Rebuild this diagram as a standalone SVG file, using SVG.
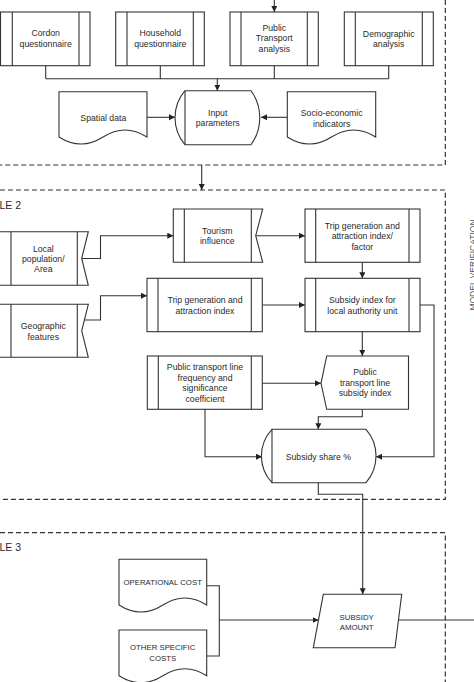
<svg xmlns="http://www.w3.org/2000/svg" width="474" height="682" viewBox="0 0 474 682">
<defs>
<marker id="arr" markerUnits="userSpaceOnUse" markerWidth="7" markerHeight="7" refX="6" refY="3" orient="auto">
<path d="M0,0 L6,3 L0,6 Z" fill="#222"/>
</marker>
<style>
.s{fill:#fff;stroke:#333;stroke-width:1.1}
.l{fill:none;stroke:#333;stroke-width:1.1}
.c{fill:none;stroke:#333;stroke-width:1.1}
.a{marker-end:url(#arr)}
.d{fill:none;stroke:#333;stroke-width:1.2;stroke-dasharray:5 3}
text{font-family:"Liberation Sans",Arial,sans-serif;font-size:8.7px;fill:#2a2a2a;text-anchor:middle}
.u{font-size:7.8px}
.m{font-size:10.5px;text-anchor:start}
.v{font-size:8.5px;fill:#555}
</style>
</defs>
<rect width="474" height="682" fill="#fff"/>

<g id="modules">
<path class="d" d="M445.3,0 V165 H0"/>
<path class="d" d="M0,190 H445.3 V499.3 H0"/>
<path class="d" d="M0,532.7 H445.3 V682"/>
<text class="m" x="-0.5" y="209">LE 2</text>
<text class="m" x="-0.5" y="551">LE 3</text>
<text class="v" transform="translate(476,265) rotate(-90)">MODEL VERIFICATION</text>
</g>

<g id="connectors">
<path class="c a" d="M274.3,0 V12"/>
<path class="c" d="M45.7,65.7 V78.7 M160.3,65.7 V78.7 M274.3,65.7 V78.7 M388.7,65.7 V78.7 M45.7,78.7 H388.7"/>
<path class="c a" d="M217.3,78.7 V90.7"/>
<path class="c a" d="M147,117.3 H175"/>
<path class="c a" d="M287.3,117.3 H261"/>
<path class="c a" d="M201.7,165 V190"/>
<path class="c a" d="M81.7,258.5 H100.5 V235.7 H173.3"/>
<path class="c a" d="M255.7,235.7 H305"/>
<path class="c a" d="M362.3,262.3 V278.3"/>
<path class="c a" d="M84.3,320 H100.5 V295.7 H147"/>
<path class="c a" d="M262.3,305 H305"/>
<path class="c a" d="M420,305 H434 V456.7 H376"/>
<path class="c a" d="M362.3,331.7 V356"/>
<path class="c a" d="M262.3,383.3 H321"/>
<path class="c a" d="M362.3,409.3 V416.7 H318.3 V429.3"/>
<path class="c a" d="M205,409.3 V456.7 H262"/>
<path class="c a" d="M318.3,482.7 V494.3 H362.7 V594.3"/>
<path class="c" d="M206.7,585.7 H219.3 V656 H206.7"/>
<path class="c a" d="M219.3,620 H318.5"/>
<path class="c" d="M398.5,620 H474"/>
</g>

<g id="cordon">
<rect class="s" x="0.5" y="12" width="89.5" height="53.7"/>
<path class="l" d="M12.3,12 V65.7 M79,12 V65.7"/>
<text x="45.7" y="36.3">Cordon</text>
<text x="45.7" y="47">questionnaire</text>
</g>
<g id="household">
<rect class="s" x="115.7" y="12" width="88.6" height="53.7"/>
<path class="l" d="M127,12 V65.7 M193.3,12 V65.7"/>
<text x="160.3" y="36.3">Household</text>
<text x="160.3" y="47">questionnaire</text>
</g>
<g id="public-transport">
<rect class="s" x="230" y="12" width="88.3" height="53.7"/>
<path class="l" d="M241,12 V65.7 M307.3,12 V65.7"/>
<text x="274.3" y="31">Public</text>
<text x="274.3" y="41.3">Transport</text>
<text x="274.3" y="52">analysis</text>
</g>
<g id="demographic">
<rect class="s" x="344.3" y="12" width="89" height="53.7"/>
<path class="l" d="M355.3,12 V65.7 M422.3,12 V65.7"/>
<text x="388.7" y="36.6">Demographic</text>
<text x="388.7" y="47">analysis</text>
</g>

<g id="spatial-data">
<path class="s" d="M59,91.7 H147 V137 Q125,123 103,137 T59,137 Z"/>
<text x="103.3" y="120.6">Spatial data</text>
</g>
<g id="input-parameters">
<path class="s" d="M185,90.7 H251 A46 46 0 0 1 251,144.7 H185 A41.5 41.5 0 0 1 185,90.7 Z"/>
<path class="l" d="M185,90.7 V144.7"/>
<text x="217.7" y="115.6">Input</text>
<text x="217.7" y="126">parameters</text>
</g>
<g id="socio-economic">
<path class="s" d="M287.3,91.7 H375.7 V137 Q353.6,123 331.5,137 T287.3,137 Z"/>
<text x="331.7" y="116.3">Socio-economic</text>
<text x="331.7" y="126.6">indicators</text>
</g>

<g id="local-population">
<path class="s" d="M-2,231.7 H88.3 L81.7,258.5 L88.3,285.3 H-2 Z"/>
<path class="l" d="M11,231.7 V285.3 M77.3,231.7 V285.3"/>
<text x="43.3" y="251.6">Local</text>
<text x="43.3" y="262">population/</text>
<text x="43.3" y="272.3">Area</text>
</g>
<g id="geographic">
<path class="s" d="M-2,304.3 H88.3 L81.7,330.8 L88.3,357.3 H-2 Z"/>
<path class="l" d="M11,304.3 V357.3 M77.3,304.3 V357.3"/>
<text x="43.3" y="329.3">Geographic</text>
<text x="43.3" y="339.5">features</text>
</g>
<g id="tourism">
<path class="s" d="M173.3,209 H262.7 L255.7,235.7 L262.7,262.3 H173.3 Z"/>
<path class="l" d="M184.3,209 V262.3 M251.3,209 V262.3"/>
<text x="217.3" y="234">Tourism</text>
<text x="217.3" y="244.3">influence</text>
</g>
<g id="trip-factor">
<rect class="s" x="305" y="209" width="115" height="53.3"/>
<path class="l" d="M315.7,209 V262.3 M409,209 V262.3"/>
<text x="362.3" y="228.6">Trip generation and</text>
<text x="362.3" y="239">attraction index/</text>
<text x="362.3" y="249.6">factor</text>
</g>
<g id="trip-index">
<rect class="s" x="147" y="278.3" width="115.3" height="53.4"/>
<path class="l" d="M158,278.3 V331.7 M251.3,278.3 V331.7"/>
<text x="205" y="303.3">Trip generation and</text>
<text x="205" y="313.6">attraction index</text>
</g>
<g id="subsidy-index">
<rect class="s" x="305" y="278.3" width="115" height="53.4"/>
<path class="l" d="M315.7,278.3 V331.7 M409,278.3 V331.7"/>
<text x="362.3" y="303.3">Subsidy index for</text>
<text x="362.3" y="313.6">local authority unit</text>
</g>
<g id="frequency">
<rect class="s" x="147.3" y="356" width="115" height="53.3"/>
<path class="l" d="M158.3,356 V409.3 M251.3,356 V409.3"/>
<text x="205" y="370">Public transport line</text>
<text x="205" y="380.6">frequency and</text>
<text x="205" y="391">significance</text>
<text x="205" y="401.6">coefficient</text>
</g>
<g id="pt-subsidy-index">
<path class="s" d="M326.7,356 H408.5 V409.3 H326.7 L321,383.3 Z"/>
<text x="365" y="375.3">Public</text>
<text x="365" y="385.6">transport line</text>
<text x="365" y="396">subsidy index</text>
</g>
<g id="subsidy-share">
<path class="s" d="M272,429.3 H366 A40.6 40.6 0 0 1 366,482.7 H272 A39 39 0 0 1 272,429.3 Z"/>
<path class="l" d="M272,429.3 V482.7"/>
<text x="318.3" y="460">Subsidy share %</text>
</g>

<g id="operational-cost">
<path class="s" d="M119,559.3 H206.7 V605 Q184.8,591 162.9,605 T119,605 Z"/>
<text class="u" x="162.7" y="584.6">OPERATIONAL COST</text>
</g>
<g id="other-costs">
<path class="s" d="M119,630 H206.7 V675.7 Q184.8,661.7 162.9,675.7 T119,675.7 Z"/>
<text class="u" x="162.7" y="650.3">OTHER SPECIFIC</text>
<text class="u" x="162.7" y="660.5">COSTS</text>
</g>
<g id="subsidy-amount">
<path class="s" d="M323.3,594.3 H401.7 L395,647.7 H313.3 Z"/>
<text class="u" x="356.7" y="619.6">SUBSIDY</text>
<text class="u" x="356.7" y="630.2">AMOUNT</text>
</g>
</svg>
